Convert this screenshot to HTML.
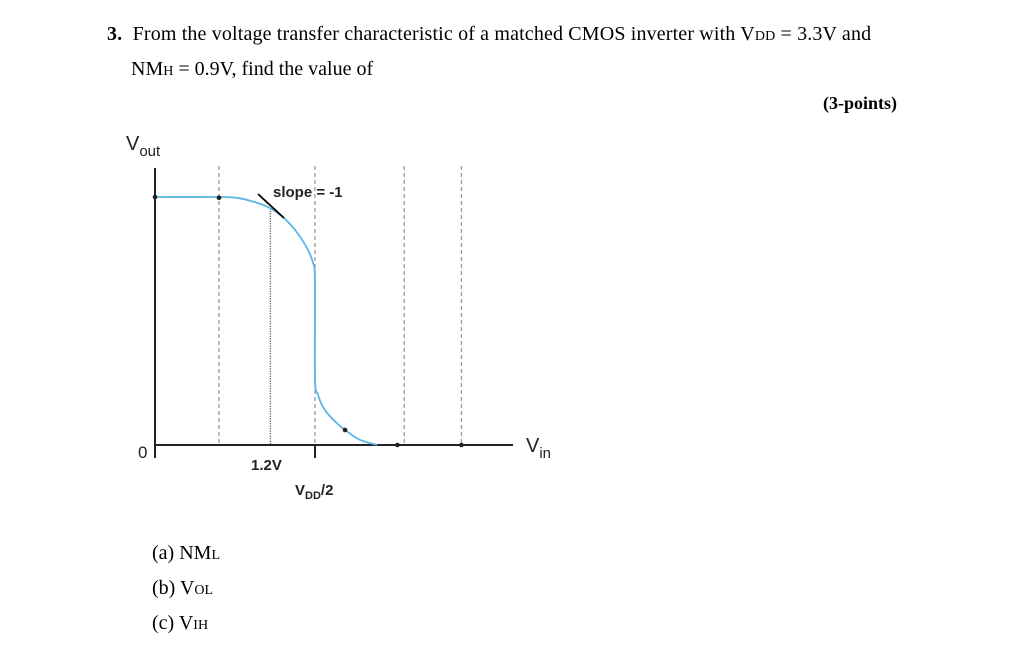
<!DOCTYPE html>
<html><head><meta charset="utf-8"><style>
body{margin:0;width:1024px;height:664px;background:#fff;overflow:hidden;font-family:"Liberation Serif",serif;color:#000}
.t{position:absolute;white-space:nowrap;font-size:20px;line-height:1}
.s{font-size:14px}
svg{position:absolute;left:0;top:0}
</style></head><body>
<div class="t" style="left:107px;top:24px;letter-spacing:0.15px"><b>3.</b>&nbsp; From the voltage transfer characteristic of a matched CMOS inverter with V<span class="s">DD</span> = 3.3V and</div>
<div class="t" style="left:131px;top:59px">NM<span class="s">H</span> = 0.9V, find the value of</div>
<div class="t" style="left:823px;top:94px;font-size:18px"><b>(3-points)</b></div>
<div class="t" style="left:152px;top:543px">(a) NM<span class="s">L</span></div>
<div class="t" style="left:152px;top:578px">(b) V<span class="s">OL</span></div>
<div class="t" style="left:152px;top:613px">(c) V<span class="s">IH</span></div>
<svg id="chart" width="1024" height="664" font-family="Liberation Sans, sans-serif"></svg>
<script>
// data (Vin, Vout) in volts, VDD=3.3
const curveVin=[0,0.6,0.845,1.06,1.19,1.33,1.47,1.58,1.63,1.65,1.65,1.68,1.75,1.86,1.96,2.11,2.29];
const curveVout=[3.3,3.3,3.29,3.22,3.15,3.02,2.82,2.59,2.42,2.19,0.9,0.67,0.47,0.31,0.2,0.07,0.0];
const dashedVin=[0.66,1.65,2.57,3.16];
const dotVin=[0,0.66,1.96,2.5,3.16];
const dotVout=[3.3,3.29,0.2,0,0];
const dottedVin=[1.19];
const NS='http://www.w3.org/2000/svg';
const svg=document.getElementById('chart');
const x0=155,y0=445,xPer=(315-155)/1.65,yPer=(445-197)/3.3;
const X=v=>x0+v*xPer, Y=v=>y0-v*yPer;
function mk(tag,at){const e=document.createElementNS(NS,tag);for(const k in at)e.setAttribute(k,at[k]);svg.appendChild(e);return e;}
dashedVin.forEach(v=>{const e=mk('line',{x1:X(v),x2:X(v),y1:166,y2:y0,stroke:'#999','stroke-width':1.3,'stroke-dasharray':'4,3'});

});
dottedVin.forEach(v=>{const e=mk('line',{x1:X(v),x2:X(v),y1:Y(3.15),y2:y0,stroke:'#333','stroke-width':1.3,'stroke-dasharray':'1,1.5'});

});
let a=mk('line',{x1:155,x2:155,y1:168,y2:458,stroke:'#222','stroke-width':2});


a=mk('line',{x1:155,x2:513,y1:y0,y2:y0,stroke:'#222','stroke-width':2});


a=mk('line',{x1:315,x2:315,y1:y0,y2:458,stroke:'#222','stroke-width':2});


const P=curveVin.map((v,i)=>[X(v),Y(curveVout[i])]);
let d='M'+P[0][0]+','+P[0][1];
for(let i=0;i<P.length-1;i++){const p0=P[Math.max(0,i-1)],p1=P[i],p2=P[i+1],p3=P[Math.min(P.length-1,i+2)];
const c1=[p1[0]+(p2[0]-p0[0])/6,p1[1]+(p2[1]-p0[1])/6],c2=[p2[0]-(p3[0]-p1[0])/6,p2[1]-(p3[1]-p1[1])/6];
d+='C'+c1[0].toFixed(1)+','+c1[1].toFixed(1)+' '+c2[0].toFixed(1)+','+c2[1].toFixed(1)+' '+p2[0].toFixed(1)+','+p2[1].toFixed(1);}
const p=mk('path',{d:d,fill:'none',stroke:'#5ab4e6','stroke-width':1.8,'stroke-linejoin':'round'});


a=mk('line',{x1:258,x2:284,y1:194,y2:218,stroke:'#000','stroke-width':1.8});


dotVin.forEach((v,i)=>{const c=mk('circle',{cx:X(v),cy:Y(dotVout[i]),r:2.3,fill:'#222'});

});
function txt(x,y,s,name,size,weight){const t=mk('text',{x:x,y:y,'font-size':size,'font-weight':weight||'normal',fill:'#222'});t.innerHTML=s;

}
txt(126,150,'V<tspan font-size="15" dy="6">out</tspan>','y-axis-title',20);
txt(138,458,'0','y-origin-label',17);
txt(526,452,'V<tspan font-size="15" dy="6">in</tspan>','x-axis-title',20);
txt(273,197,'slope = -1','slope-label',15,'bold');
txt(251,470,'1.2V','vil-label',15,'bold');
txt(295,495,'V<tspan font-size="11" dy="4">DD</tspan><tspan dy="-4">/2</tspan>','vdd-half-label',15,'bold');
</script>
</body></html>
